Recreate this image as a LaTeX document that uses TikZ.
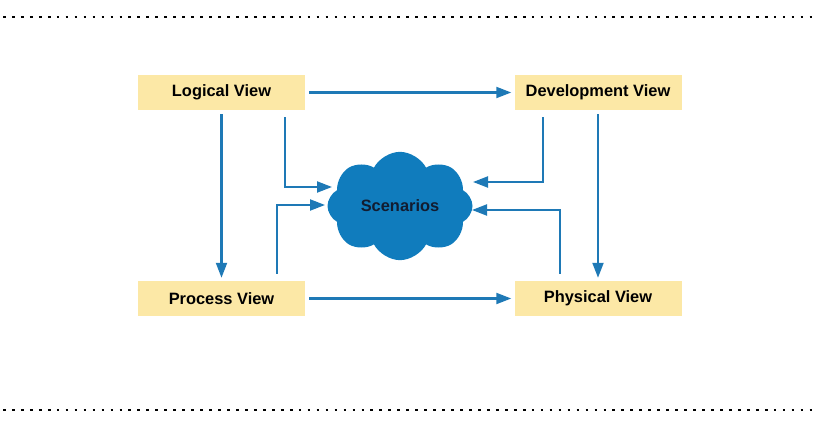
\documentclass[tikz,border=0pt]{standalone}
\usepackage{fontspec}
\setmainfont{Liberation Sans}
\usetikzlibrary{calc,arrows.meta,shapes.symbols}
\definecolor{viewyellow}{RGB}{252,232,166}
\definecolor{linkblue}{RGB}{30,121,182}
\definecolor{cloudblue}{RGB}{16,124,189}
\definecolor{darktext}{RGB}{18,28,48}

\begin{document}
\begin{tikzpicture}[x=0.03cm, y=-0.03cm,
    box/.style={fill=viewyellow, minimum width=5.01cm, minimum height=1.05cm, inner sep=0pt,
      font=\fontsize{14}{16}\selectfont\bfseries},
    arr/.style={draw=linkblue, line width=1.8pt, -{Triangle[length=0.45cm,width=0.33cm]},
      shorten <=0.12cm, shorten >=0.09cm},
    dotline/.style={line width=2.3pt, dash pattern=on 2.3pt off 5.35pt}]
    \useasboundingbox (0,0) rectangle (815,428);
    % Separators
    \draw[dotline] (3,17) -- (812,17);
    \draw[dotline] (3,410) -- (812,410);

    % Views
    \node[box] (logical) at (221.5,92.5) {Logical View};
    \node[box] (dev) at (598,92.5) {Development View};
    \node[box] (process) at (221.5,298.5) {Process View};
    \node[box] (physical) at (598,298.5) {Physical View};

    % Cloud
    \node[cloud, cloud puffs=8, cloud puff arc=125, aspect=1.35, fill=cloudblue,
      minimum width=4.35cm, minimum height=3.25cm, inner sep=0pt,
      text=darktext, font=\fontsize{14}{16}\selectfont\bfseries] (scen) at (400,206) {Scenarios};
    \coordinate (sLog) at ($(scen.center)+(-68,-19)$);
    \coordinate (sPro) at ($(scen.center)+(-75,-1)$);
    \coordinate (sDev) at ($(scen.center)+(73,-24)$);
    \coordinate (sPhy) at ($(scen.center)+(72,4)$);

    % Arrows
    \draw[arr] (logical) -- (dev);
    \draw[arr] (process) -- (physical);
    \draw[arr] (logical) -- (process);
    \draw[arr] (dev) -- (physical);
    \draw[arr, shorten >=0pt] ($(logical.south)+(63.5,3)$) |- (sLog);
    \draw[arr, shorten >=0pt] ($(process.north)+(55.5,-3)$) |- (sPro);
    \draw[arr, shorten >=0pt] ($(dev.south)+(-55,3)$) |- (sDev);
    \draw[arr, shorten >=0pt] ($(physical.north)+(-38,-3)$) |- (sPhy);
\end{tikzpicture}
\end{document}
